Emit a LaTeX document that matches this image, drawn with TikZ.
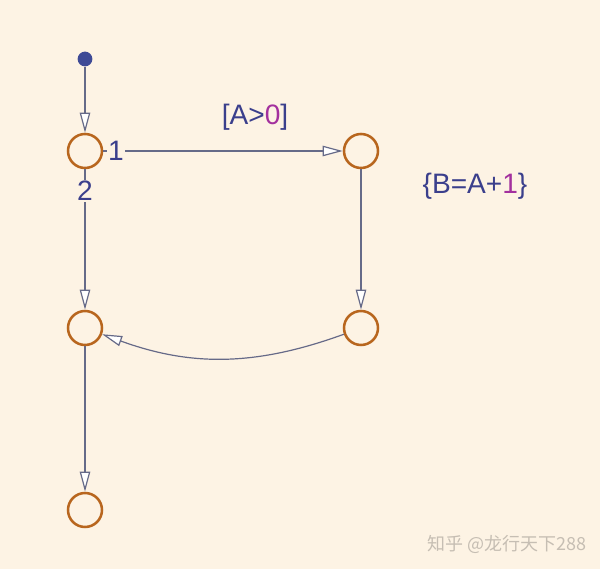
\documentclass[tikz,border=0pt]{standalone}
\usepackage{fontspec}
\setmainfont{Liberation Sans}
\newfontfamily\cjk{Noto Sans CJK SC}
\usepackage{xcolor}
\usetikzlibrary{
    positioning,
    arrows.meta
}
\definecolor{bgpaper}{HTML}{FDF3E4}
\definecolor{junc}{HTML}{B8661E}
\definecolor{txtblue}{HTML}{3B3F8C}
\definecolor{numpink}{HTML}{A3309E}
\definecolor{wire}{HTML}{666A88}
\definecolor{dotblue}{HTML}{3E4A96}
\definecolor{mark}{HTML}{C6BEB3}

\begin{document}
\begin{tikzpicture}
  % Define styles for junctions and transitions
  \tikzset{
    junction/.style={circle, draw=junc, line width=1.8pt, fill=bgpaper, minimum size=0.85cm, inner sep=0pt},
    trans/.style={-{Triangle[open, length=5mm, width=2.6mm, fill=white]}, draw=wire, line width=0.85pt},
    lbl/.style={text=txtblue, font=\fontsize{20}{24}\selectfont, inner sep=1pt}
  };

  % Paper background (fixes the margins)
  \fill[bgpaper] (0,0) rectangle (15,14.225);

  % Default transition dot and junctions
  \node[circle, fill=dotblue, minimum size=0.37cm, inner sep=0pt] (start) at (2.125,12.75) {};
  \node[junction] (J1) at (2.125,10.45) {};
  \node[junction] (J2) at (9.025,10.45) {};
  \node[junction] (J3) at (2.125,6.025) {};
  \node[junction] (J4) at (9.025,6.025) {};
  \node[junction] (J5) at (2.125,1.475) {};

  % Transitions
  \draw[trans] (start) -- (J1);
  \draw[trans] (J1) -- (J2);
  \draw[trans] (J1) -- (J3);
  \draw[trans] (J2) -- (J4);
  \draw[trans, bend left=20] (J4) to (J3);
  \draw[trans] (J3) -- (J5);

  % Execution order labels (cover the wires)
  \node[lbl, fill=bgpaper] (ord1) at (2.9,10.45) {1};
  \node[lbl, fill=bgpaper] (ord2) at (2.125,9.45) {2};

  % Condition and condition action
  \node[lbl] (cond) at (6.375,11.3) {[A>\textcolor{numpink}{0}]};
  \node[lbl] (act) at (11.875,9.575) {\{B=A+\textcolor{numpink}{1}\}};

  % Watermark
  \node[text=mark, font=\cjk\fontsize{12.8}{15}\selectfont] (wm) at (12.68,0.62) {知乎 @龙行天下288};
\end{tikzpicture}
\end{document}
